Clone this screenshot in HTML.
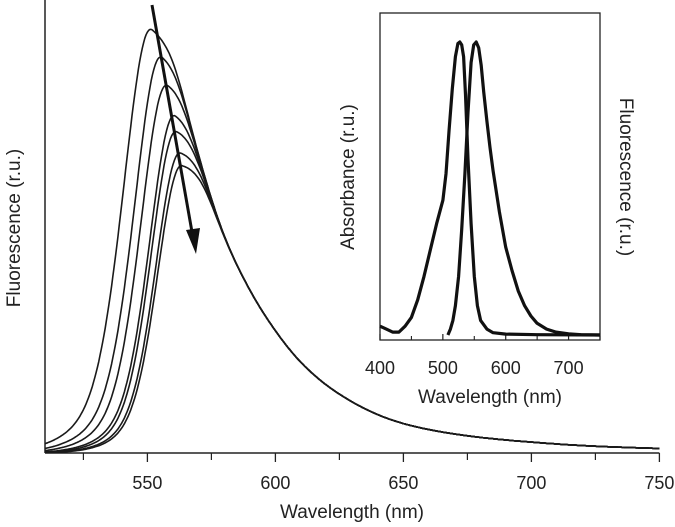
<!DOCTYPE html>
<html><head><meta charset="utf-8"><style>
body{margin:0;background:#fff}
svg{display:block;font-family:"Liberation Sans",Arial,sans-serif;fill:#222}
</style></head><body>
<svg id="chart" width="675" height="527" viewBox="0 0 675 527" xmlns="http://www.w3.org/2000/svg">
<g id="main"></g>
<g id="inset"></g>
</svg>
<script>
// main chart data
const mainTicks = [550, 600, 650, 700, 750];
const mainMinorTicks = [525, 575, 625, 675, 725];
const peakNm = [552, 556, 558, 561, 561.5, 563, 563.5];
const peakVal = [0.956, 0.90, 0.83, 0.76, 0.72, 0.67, 0.64];
const coreWidth = [15, 14.5, 14, 13.5, 13.3, 13, 12.8];
const footWidth = [30, 28.5, 27, 26, 25, 24.5, 24];
const tailNm = [500, 540, 550, 560, 570, 580, 590, 600, 610, 625, 650, 675, 700, 725, 750];
const tailVal = [6, 1.6, 1.15, 0.9, 0.66, 0.48, 0.36, 0.27, 0.2, 0.13, 0.065, 0.038, 0.024, 0.015, 0.01];
// inset data
const insetTicks = [400, 500, 600, 700];
const insetMinor = [450, 550, 650, 750];
const absNm = [400,410,420,430,440,450,460,470,480,490,500,505,510,515,520,524,527,530,533,536,540,545,550,555,560,570,580,600,650,750];
const absVal = [0.03,0.02,0.01,0.01,0.03,0.06,0.12,0.2,0.29,0.38,0.46,0.55,0.7,0.84,0.95,0.995,1.0,0.99,0.95,0.82,0.6,0.38,0.2,0.1,0.05,0.02,0.008,0.003,0.001,0];
const fluNm = [508,512,516,520,525,530,535,540,545,549,553,557,561,565,570,575,580,590,600,610,620,630,640,650,665,680,700,720,750];
const fluVal = [0,0.02,0.05,0.1,0.2,0.36,0.55,0.76,0.93,0.99,1.0,0.98,0.92,0.83,0.73,0.64,0.56,0.42,0.3,0.22,0.15,0.1,0.065,0.04,0.02,0.01,0.004,0.001,0];

const NS="http://www.w3.org/2000/svg";
function mk(tag, attrs, parent){const e=document.createElementNS(NS,tag);for(const k in attrs)e.setAttribute(k,attrs[k]);parent.appendChild(e);return e;}
const main=document.getElementById('main'), inset=document.getElementById('inset');

const X0=45, Y0=453, nm0=510, pxPerNm=128/50;
const mx = nm => X0 + (nm-nm0)*pxPerNm;
const my = v => Y0 - v*453;
let a=mk('line',{x1:X0,y1:0,x2:X0,y2:Y0,stroke:'#222','stroke-width':1.5},main);


a=mk('line',{x1:X0,y1:Y0,x2:mx(750),y2:Y0,stroke:'#222','stroke-width':1.5},main);


mainTicks.forEach(t=>{
  const l=mk('line',{x1:mx(t),y1:Y0,x2:mx(t),y2:Y0+9,stroke:'#222','stroke-width':1.3},main);
  
  
  const tx=mk('text',{x:mx(t),y:489,'text-anchor':'middle','font-size':18},main);
  tx.textContent=t;
  
  
});
mainMinorTicks.forEach(t=>{
  const l=mk('line',{x1:mx(t),y1:Y0,x2:mx(t),y2:Y0+7,stroke:'#222','stroke-width':1.2},main);
  
  
});
let tt=mk('text',{x:352,y:518,'text-anchor':'middle','font-size':19},main);
tt.textContent='Wavelength (nm)';


tt=mk('text',{x:0,y:0,'text-anchor':'middle','font-size':19,transform:'translate(20,228) rotate(-90)'},main);
tt.textContent='Fluorescence (r.u.)';



// smooth tail: Catmull-Rom on log values
function tail(nm){
  const L=tailVal.map(v=>Math.log(v)), n=tailNm.length;
  if(nm<=tailNm[0])return tailVal[0];
  if(nm>=tailNm[n-1])return tailVal[n-1];
  let i=1; while(nm>tailNm[i])i++;
  const x0=tailNm[i-1], x1=tailNm[i], t=(nm-x0)/(x1-x0), h=x1-x0;
  const m=k=>{const a=Math.max(0,k-1), b=Math.min(n-1,k+1);return (L[b]-L[a])/(tailNm[b]-tailNm[a]);};
  const m0=m(i-1)*h, m1=m(i)*h, t2=t*t, t3=t2*t;
  const v=(2*t3-3*t2+1)*L[i-1]+(t3-2*t2+t)*m0+(-2*t3+3*t2)*L[i]+(t3-t2)*m1;
  return Math.exp(v);
}
peakNm.forEach((p,i)=>{
  const A=peakVal[i];
  let d='';
  for(let nm=nm0; nm<=750; nm+=0.5){
    const dd=nm-p;
    const base = nm<p ? A*(0.85*Math.exp(-Math.pow(dd/coreWidth[i],2))+0.15*Math.exp(-Math.pow(dd/footWidth[i],2))) : A;
    const T=tail(nm), n=10;
    let v=Math.pow(Math.pow(base,-n)+Math.pow(T,-n),-1/n);
    if(!isFinite(v))v=0;
    d+=(d?'L':'M')+mx(nm).toFixed(1)+' '+my(v).toFixed(1);
  }
  const path=mk('path',{d:d,fill:'none',stroke:'#1a1a1a','stroke-width':1.6,'stroke-linejoin':'round'},main);
  
  
});
const ar=mk('line',{x1:152,y1:5,x2:192,y2:232,stroke:'#111','stroke-width':3},main);


const ah=mk('polygon',{points:'186,230 200,228 196,254',fill:'#111'},main);



// inset
const IX0=380, IX1=600, IY0=335, IY1=42;
const ix = nm => IX0 + (nm-400)*(IX1-IX0)/350;
const iy = v => IY0 - v*(IY0-IY1);
const box=mk('rect',{x:IX0,y:13,width:IX1-IX0,height:IY0+5-13,fill:'#fff',stroke:'#222','stroke-width':1.3},inset);


insetTicks.forEach(t=>{
  const l=mk('line',{x1:ix(t),y1:340,x2:ix(t),y2:334,stroke:'#222','stroke-width':1.2},inset);
  
  
  const tx=mk('text',{x:ix(t),y:374,'text-anchor':'middle','font-size':18},inset);
  tx.textContent=t;
  
  
});
insetMinor.forEach(t=>{
  const l=mk('line',{x1:ix(t),y1:340,x2:ix(t),y2:336,stroke:'#222','stroke-width':1.1},inset);
  
  
});
tt=mk('text',{x:490,y:403,'text-anchor':'middle','font-size':19},inset);
tt.textContent='Wavelength (nm)';


tt=mk('text',{x:0,y:0,'text-anchor':'middle','font-size':19,transform:'translate(354,177) rotate(-90)'},inset);
tt.textContent='Absorbance (r.u.)';


tt=mk('text',{x:0,y:0,'text-anchor':'middle','font-size':19,transform:'translate(620,177) rotate(90)'},inset);
tt.textContent='Fluorescence (r.u.)';


function line(nms,vals){return nms.map((n,i)=>(i?'L':'M')+ix(n).toFixed(1)+' '+iy(vals[i]).toFixed(1)).join('');}
let p=mk('path',{d:line(absNm,absVal),fill:'none',stroke:'#111','stroke-width':3.2,'stroke-linejoin':'round'},inset);


p=mk('path',{d:line(fluNm,fluVal),fill:'none',stroke:'#111','stroke-width':3.2,'stroke-linejoin':'round'},inset);


</script>
</body></html>
